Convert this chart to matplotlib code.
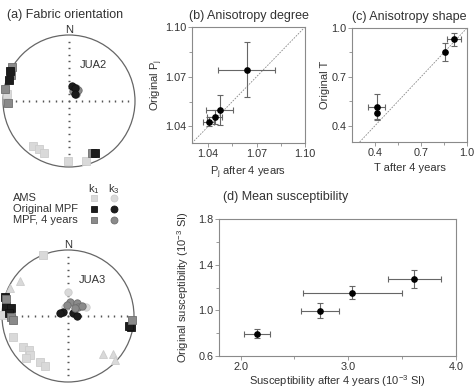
import numpy as np
import matplotlib
matplotlib.use('Agg')
import matplotlib.pyplot as plt
from matplotlib.patches import Circle
from matplotlib.ticker import FixedLocator, FormatStrFormatter

plt.rcParams['font.family'] = ['Liberation Sans', 'DejaVu Sans']
plt.rcParams['mathtext.fontset'] = 'custom'
plt.rcParams['mathtext.rm'] = 'Liberation Sans'
plt.rcParams['mathtext.it'] = 'Liberation Sans:italic'
plt.rcParams['text.color'] = '#333333'
plt.rcParams['axes.labelcolor'] = '#333333'

# ---- (a) fabric orientation: (trend, plunge) in degrees ----
jua2_k1_ams = [(276, 6), (219, 14), (212, 15), (206, 13), (181, 10), (164, 6)]
jua2_k1_orig = [(297, 0), (289, 4), (153, 13)]
jua2_k1_4yr = [(301, 0), (294, 4), (281, 2), (268, 9), (156, 14)]
jua2_k3_ams = [(30, 74)]
jua2_k3_orig = [(10, 71), (25, 73), (40, 79)]
jua2_k3_4yr = [(29, 71), (25, 77), (45, 77), (40, 72)]

jua3_k1_ams = [(249, 12), (236, 18), (229, 22), (224, 18), (225, 12), (211, 20),
               (205, 17), (338, 0), (271, 2)]
jua3_k2_ams = [(306, 11), (296, 2), (137, 23), (130, 11), (133, 2)]
jua3_k1_orig = [(287, 0), (279, 6), (278, 14), (273, 12), (100, 4), (99, 7)]
jua3_k1_4yr = [(285, 3), (269, 15), (266, 18), (94, 3)]
jua3_k3_ams = [(0, 60), (342, 78), (64, 65)]
jua3_k3_orig = [(312, 82), (289, 80), (63, 83), (90, 79)]
jua3_k3_4yr = [(8, 72), (34, 71), (48, 73), (54, 69), (353, 76), (42, 77)]

# ---- (b) anisotropy degree Pj ----
pj_after = [1.0639, 1.0473, 1.0441, 1.0403]
pj_after_err = [0.0175, 0.0084, 0.0045, 0.0035]
pj_orig = [1.0742, 1.0498, 1.0458, 1.0428]
pj_orig_err = [0.0166, 0.0090, 0.0042, 0.0027]

# ---- (c) anisotropy shape T ----
t_after = [0.917, 0.856, 0.410, 0.410]
t_after_err = [0.045, 0.0, 0.054, 0.0]
t_orig = [0.931, 0.855, 0.517, 0.477]
t_orig_err = [0.040, 0.055, 0.076, 0.040]

# ---- (d) mean susceptibility (1e-3 SI) ----
k_after = [2.152, 2.738, 3.039, 3.612]
k_after_err = [0.12, 0.175, 0.46, 0.245]
k_orig = [0.794, 0.998, 1.155, 1.277]
k_orig_err = [0.040, 0.065, 0.055, 0.077]

W, H = 474, 388
fig = plt.figure(figsize=(W / 100, H / 100), dpi=100)


def rect(left, top, right, bottom):
    return [left / W, 1 - bottom / H, (right - left) / W, (bottom - top) / H]


def project(pts):
    tr = np.radians([p[0] for p in pts])
    pl = np.radians([p[1] for p in pts])
    r = np.sqrt(2) * np.sin((np.pi / 2 - pl) / 2)
    return r * np.sin(tr), r * np.cos(tr)


styles = {
    'ams': dict(mfc='#d9d9d9', mec='#cccccc'),
    'orig': dict(mfc='#1c1c1c', mec='#111111'),
    '4yr': dict(mfc='#8a8a8a', mec='#6e6e6e'),
}


def stereonet(cx, cy, name, sets):
    R = 66
    s = 1.05 * R
    ax = fig.add_axes(rect(cx - s, cy - s, cx + s, cy + s))
    ax.set_xlim(-1.05, 1.05)
    ax.set_ylim(-1.05, 1.05)
    ax.set_aspect('equal')
    ax.axis('off')
    ax.add_patch(Circle((0, 0), 1, fill=False, ec='#666666', lw=0.9, clip_on=False))
    ticks = np.arange(-0.9, 0.95, 0.1)
    ax.plot(ticks, np.zeros_like(ticks), ls='none', marker='|', ms=2, mew=1.0, color='#555555')
    ax.plot(np.zeros_like(ticks), ticks, ls='none', marker='_', ms=2, mew=1.0, color='#555555')
    ax.text(0, 1.0, 'N', ha='center', va='bottom', fontsize=8)
    ax.text(0.37, 0.54, name, ha='center', va='center', fontsize=8)
    for pts, marker, key in sets:
        x, y = project(pts)
        ax.plot(x, y, ls='none', marker=marker, ms=5.3, mew=0.6, clip_on=False, **styles[key])


stereonet(69, 101, 'JUA2', [
    (jua2_k1_ams, 's', 'ams'), (jua2_k3_ams, 'o', 'ams'),
    (jua2_k1_4yr, 's', '4yr'), (jua2_k3_4yr, 'o', '4yr'),
    (jua2_k1_orig, 's', 'orig'), (jua2_k3_orig, 'o', 'orig'),
])
stereonet(68, 316, 'JUA3', [
    (jua3_k1_ams, 's', 'ams'), (jua3_k2_ams, '^', 'ams'), (jua3_k3_ams, 'o', 'ams'),
    (jua3_k3_orig, 'o', 'orig'), (jua3_k1_orig, 's', 'orig'),
    (jua3_k1_4yr, 's', '4yr'), (jua3_k3_4yr, 'o', '4yr'),
])

# hand-made legend for (a)
lax = fig.add_axes([0, 0, 1, 1], zorder=-1)
lax.set_xlim(0, W)
lax.set_ylim(H, 0)
lax.axis('off')
lax.text(94, 189, 'k$_1$', ha='center', va='center', fontsize=8)
lax.text(114, 189, 'k$_3$', ha='center', va='center', fontsize=8)
for yy, lab, key in [(198, 'AMS', 'ams'), (209, 'Original MPF', 'orig'), (220, 'MPF, 4 years', '4yr')]:
    lax.text(13, yy, lab, ha='left', va='center', fontsize=8)
    lax.plot([94], [yy], ls='none', marker='s', ms=5, mew=0.6, **styles[key])
    lax.plot([114], [yy], ls='none', marker='o', ms=5, mew=0.6, **styles[key])

fig.text(7 / W, 1 - 15 / H, '(a) Fabric orientation', ha='left', va='center', fontsize=9)


def style_axes(ax):
    for sp in ax.spines.values():
        sp.set_color('#8a8a8a')
        sp.set_linewidth(0.8)
    ax.tick_params(which='both', direction='out', colors='#8a8a8a', labelcolor='#333333',
                   labelsize=7.8, width=0.6, pad=1)
    ax.tick_params(which='major', length=3)
    ax.tick_params(which='minor', length=2)


def errplot(ax, x, xe, y, ye):
    ax.errorbar(x, y, xerr=xe, yerr=ye, fmt='o', ms=3.8, mfc='black', mec='black',
                ecolor='#666666', elinewidth=0.8, capsize=2.3, capthick=0.8, zorder=3)


# (b)
axb = fig.add_axes(rect(192, 27, 305, 143))
axb.plot([1.03, 1.10], [1.03, 1.10], ls=(0, (2, 1.5)), color='#888888', lw=0.6)
errplot(axb, pj_after, pj_after_err, pj_orig, pj_orig_err)
axb.set_xlim(1.03, 1.10)
axb.set_ylim(1.03, 1.10)
for axis in (axb.xaxis, axb.yaxis):
    axis.set_major_locator(FixedLocator([1.04, 1.07, 1.10]))
    axis.set_minor_locator(FixedLocator([1.055, 1.085]))
    axis.set_major_formatter(FormatStrFormatter('%.2f'))
style_axes(axb)
axb.set_xlabel('P$_\\mathrm{j}$ after 4 years', fontsize=8, labelpad=4)
axb.set_ylabel('Original P$_\\mathrm{j}$', fontsize=8, labelpad=0)
axb.set_title('(b) Anisotropy degree', fontsize=9, pad=6)

# (c)
axc = fig.add_axes(rect(352, 28, 467, 142))
axc.plot([0.3, 1.0], [0.3, 1.0], ls=(0, (2, 1.5)), color='#888888', lw=0.6)
errplot(axc, t_after, t_after_err, t_orig, t_orig_err)
axc.set_xlim(0.25, 1.0)
axc.set_ylim(0.3, 1.0)
for axis in (axc.xaxis, axc.yaxis):
    axis.set_major_locator(FixedLocator([0.4, 0.7, 1.0]))
    axis.set_minor_locator(FixedLocator([0.55, 0.85]))
    axis.set_major_formatter(FormatStrFormatter('%.1f'))
style_axes(axc)
axc.set_xlabel('T after 4 years', fontsize=8, labelpad=4)
axc.set_ylabel('Original T', fontsize=8, labelpad=1)
axc.set_title('(c) Anisotropy shape', fontsize=9, pad=6)

# (d)
axd = fig.add_axes(rect(219, 219, 456, 356))
errplot(axd, k_after, k_after_err, k_orig, k_orig_err)
axd.set_xlim(1.8, 4.0)
axd.set_ylim(0.6, 1.8)
axd.xaxis.set_major_locator(FixedLocator([2.0, 3.0, 4.0]))
axd.xaxis.set_minor_locator(FixedLocator([2.5, 3.5]))
axd.yaxis.set_major_locator(FixedLocator([0.6, 1.0, 1.4, 1.8]))
axd.yaxis.set_minor_locator(FixedLocator([0.8, 1.2, 1.6]))
axd.xaxis.set_major_formatter(FormatStrFormatter('%.1f'))
axd.yaxis.set_major_formatter(FormatStrFormatter('%.1f'))
style_axes(axd)
axd.set_xlabel('Susceptibility after 4 years (10$^{-3}$ SI)', fontsize=8, labelpad=1)
axd.set_ylabel('Original susceptibility (10$^{-3}$ SI)', fontsize=8, labelpad=5)
fig.text(223 / W, 1 - 197 / H, '(d) Mean susceptibility', ha='left', va='center', fontsize=9)

fig.savefig('out.png', dpi=100, facecolor='white')
